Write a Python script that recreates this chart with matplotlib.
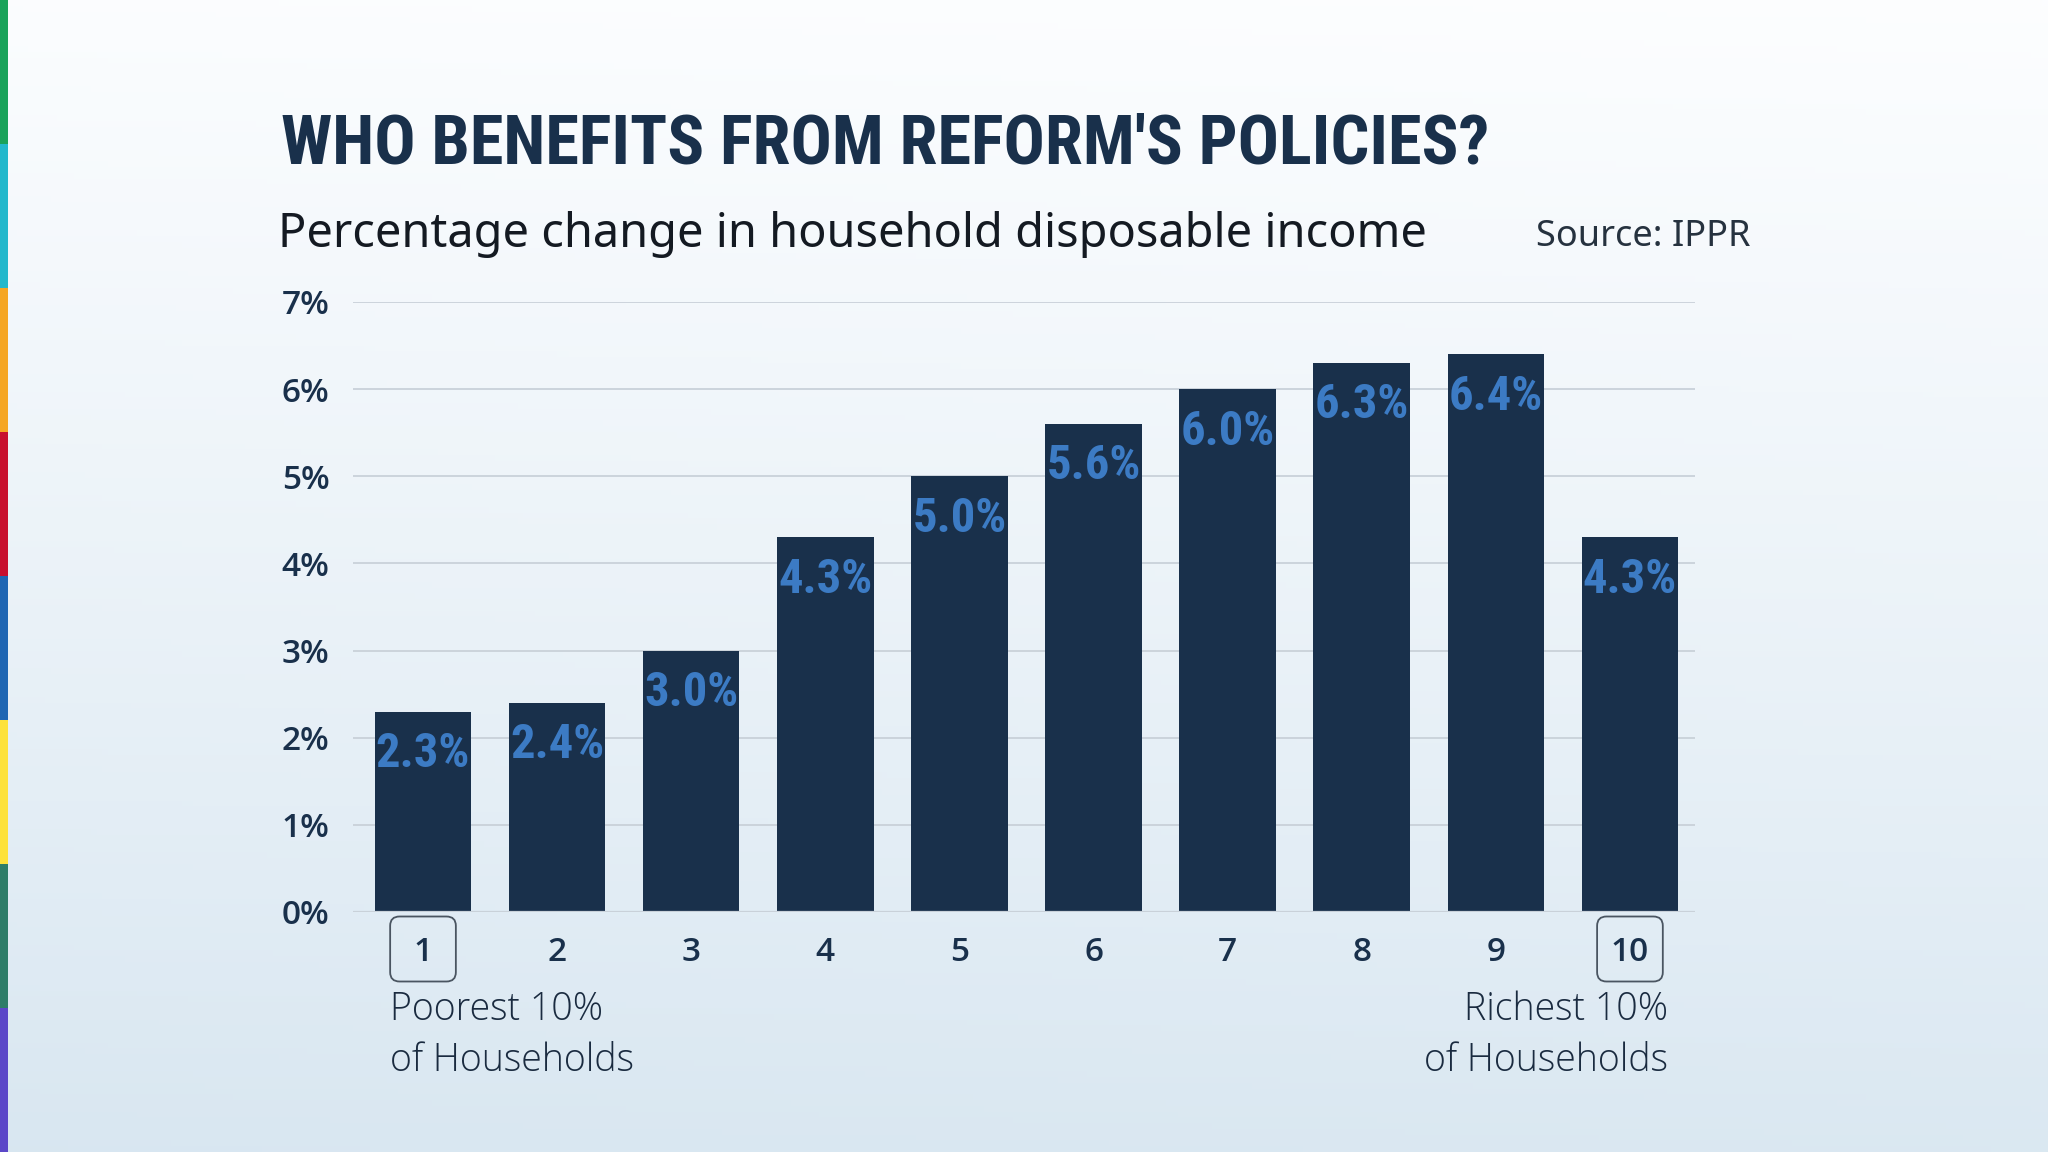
import numpy as np
import matplotlib
matplotlib.use("Agg")
import matplotlib.pyplot as plt
from matplotlib import font_manager
from matplotlib.patches import FancyBboxPatch, Rectangle
from matplotlib.transforms import blended_transform_factory

# Data
deciles = [1, 2, 3, 4, 5, 6, 7, 8, 9, 10]
change_pct = [2.3, 2.4, 3.0, 4.3, 5.0, 5.6, 6.0, 6.3, 6.4, 4.3]
value_labels = ["2.3%", "2.4%", "3.0%", "4.3%", "5.0%", "5.6%", "6.0%", "6.3%", "6.4%", "4.3%"]
y_ticks = [0, 1, 2, 3, 4, 5, 6, 7]
y_tick_labels = ["0%", "1%", "2%", "3%", "4%", "5%", "6%", "7%"]
boxed_deciles = [1, 10]

TITLE = "WHO BENEFITS FROM REFORM'S POLICIES?"
SUBTITLE = "Percentage change in household disposable income"
SOURCE = "Source: IPPR"
LEFT_NOTE = "Poorest 10%\nof Households"
RIGHT_NOTE = "Richest 10%\nof Households"

strip_colors = ["#1aa35a", "#22b8cc", "#f5a623", "#c8102e",
                "#1f66b3", "#fde23a", "#2e7d68", "#5b47c8"]

NAVY = "#19304b"
LABEL_BLUE = "#3c7bc4"
GRID = "#c9d1d9"

fonts = font_manager.fontManager.ttflist
installed = {f.name for f in fonts}


def pick(*names):
    for n in names:
        if n in installed:
            return n
    return "DejaVu Sans"


def pick_weight(test, *names):
    # first family that really has a face of the wanted weight
    for n in names:
        if any(f.name == n and isinstance(f.weight, int) and test(f.weight) for f in fonts):
            return n
    return pick(*names)


narrow = pick("Roboto Condensed", "Liberation Sans Narrow", "DejaVu Sans Condensed", "Open Sans Condensed")
body = pick("Noto Sans", "Open Sans", "Lato")
light = pick_weight(lambda w: w <= 300, "Open Sans", "Lato", "Noto Sans", "Roboto", "Inter")
semi = pick_weight(lambda w: 600 <= w <= 700, "Open Sans", "Noto Sans", "Lato", "Roboto", "Inter")

W, H = 2048, 1152
fig = plt.figure(figsize=(W / 100, H / 100), dpi=100)

# background gradient
bg = fig.add_axes([0, 0, 1, 1], zorder=-10)
yy, xx = np.mgrid[0:1:200j, 0:1:360j]
top = np.array([0.99, 0.995, 1.0])
bot = np.array([0.85, 0.905, 0.945])
t = np.clip(yy * 0.95 + (1 - xx) * 0.05, 0, 1) ** 1.1
img = top[None, None, :] * (1 - t[..., None]) + bot[None, None, :] * t[..., None]
bg.imshow(img, extent=[0, 1, 0, 1], aspect="auto", origin="upper")
bg.set_xlim(0, 1)
bg.set_ylim(0, 1)
bg.axis("off")

# colour strip on the left edge
n = len(strip_colors)
for i, c in enumerate(strip_colors):
    bg.add_patch(Rectangle((0, 1 - (i + 1) / n), 8 / W, 1 / n, color=c, lw=0))

# main axes
ax = fig.add_axes([353 / W, 1 - 912 / H, (1695 - 353) / W, (912 - 302) / H])
ax.patch.set_alpha(0)
ax.bar(deciles, change_pct, width=0.72, color=NAVY, zorder=3)
ax.set_xlim(0.478, 10.485)
ax.set_ylim(0, 7)
ax.set_yticks(y_ticks)
ax.set_yticklabels(y_tick_labels)
ax.set_xticks(deciles)
ax.set_xticklabels([str(d) for d in deciles])
ax.tick_params(length=0)
ax.tick_params(axis="y", pad=17)
ax.tick_params(axis="x", pad=17)
for lab in ax.get_yticklabels() + ax.get_xticklabels():
    lab.set_fontfamily(semi)
    lab.set_fontsize(24)
    lab.set_fontweight("semibold")
    lab.set_color(NAVY)
ax.grid(axis="y", color=GRID, lw=1.3, zorder=0)
for s in ax.spines.values():
    s.set_visible(False)
ax.axhline(0, color=GRID, lw=1.6, zorder=4)

# value labels inside top of bars
for x, v, lab in zip(deciles, change_pct, value_labels):
    ax.annotate(lab, (x, v), xytext=(0, -14), textcoords="offset points",
                ha="center", va="top", color=LABEL_BLUE, fontsize=35,
                fontweight="bold", family=narrow, zorder=5)

# boxes around first and last decile
btr = blended_transform_factory(ax.transData, ax.transAxes)
box_w = 0.49
box_h = 65 / (912 - 302)
box_c = -(949 - 912) / (912 - 302)
for d in boxed_deciles:
    ax.add_patch(FancyBboxPatch((d - box_w / 2, box_c - box_h / 2), box_w, box_h,
                                boxstyle="round,pad=0,rounding_size=0.07",
                                transform=btr, fill=False, ec="#4a5561", lw=1.3,
                                clip_on=False, mutation_aspect=box_h / box_w))

# notes under the axis
note_y = -(990 - 912) / (912 - 302)
ax.text(deciles[0] - box_w / 2, note_y, LEFT_NOTE, transform=btr, ha="left", va="top",
        fontsize=27, family=light, fontweight="light", color="#1a2b40", linespacing=1.45)
ax.text(deciles[-1] + box_w / 2 + 0.04, note_y, RIGHT_NOTE, transform=btr, ha="right", va="top",
        fontsize=27, family=light, fontweight="light", color="#1a2b40", linespacing=1.45,
        multialignment="right")

# title, subtitle, source
title = fig.text(281 / W, 1 - 163 / H, TITLE, ha="left", va="baseline", fontsize=68,
                 fontweight="bold", family=narrow, color=NAVY)
fig.canvas.draw()
bb = title.get_window_extent()
target = 1482 - 281 + 8
if bb.width > target:
    title.set_fontsize(68 * target / bb.width)

fig.text(278 / W, 1 - 247 / H, SUBTITLE, ha="left", va="baseline", fontsize=33.8,
         family=body, color="#141a22")
fig.text(1751 / W, 1 - 246 / H, SOURCE, ha="right", va="baseline", fontsize=26,
         family=body, color="#26323f")

fig.savefig("out.png", dpi=100)
